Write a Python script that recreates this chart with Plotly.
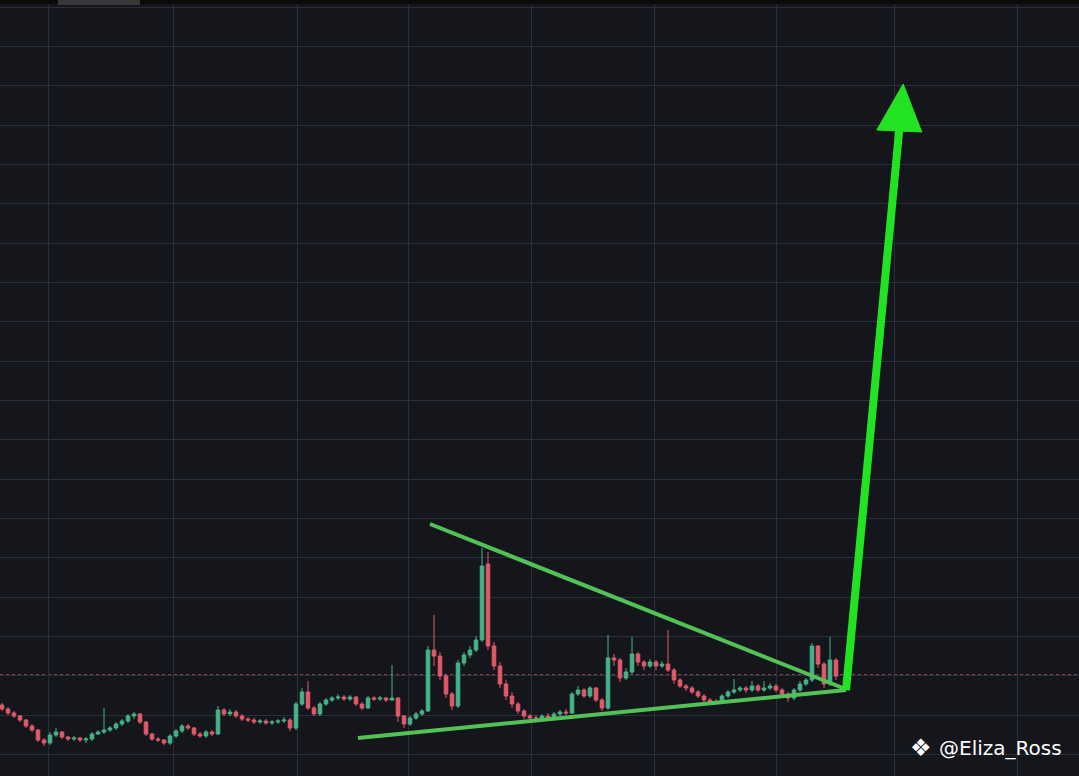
import plotly.graph_objects as go

# ---- candle data (arbitrary price units) ----
opens = [71, 67, 63, 60, 56, 50, 46, 36, 33, 41, 44, 39, 37, 38, 36, 37, 42, 44, 46, 48,
         52, 55, 60, 62, 54, 42, 37, 36, 33, 40, 45, 50, 48, 42, 40, 44, 42, 66, 62, 64,
         60, 57, 56, 54, 55, 53, 54, 55, 56, 48, 72, 84, 68, 62, 72, 76, 78, 79, 77, 79,
         72, 68, 78, 77, 78, 76, 78, 60, 52, 58, 62, 65, 126, 120, 100, 82, 70, 113, 121, 126,
         136, 212, 130, 110, 92, 80, 72, 65, 60, 58, 58, 60, 59, 62, 64, 63, 82, 86, 80, 88,
         76, 68, 118, 116, 98, 104, 122, 114, 110, 114, 110, 112, 106, 96, 90, 88, 84, 80, 76, 74,
         74, 80, 84, 86, 88, 86, 90, 86, 88, 90, 86, 82, 78, 86, 92, 96, 130, 112, 92, 116]
highs = [73, 69, 65, 61, 57, 52, 47, 38, 44, 48, 45, 40, 40, 39, 39, 44, 46, 68, 50, 54,
         57, 62, 64, 63, 55, 43, 39, 37, 42, 47, 52, 52, 49, 44, 46, 46, 70, 68, 67, 66,
         62, 59, 58, 57, 57, 56, 57, 59, 58, 74, 88, 95, 70, 74, 78, 80, 82, 81, 81, 80,
         74, 80, 80, 80, 79, 111, 79, 61, 60, 64, 67, 130, 161, 124, 102, 84, 116, 124, 130, 140,
         228, 224, 134, 114, 96, 84, 74, 67, 62, 61, 62, 63, 64, 66, 67, 84, 90, 88, 90, 89,
         78, 141, 122, 118, 108, 139, 124, 116, 117, 116, 115, 146, 108, 98, 92, 90, 86, 82, 78, 77,
         82, 86, 97, 90, 90, 95, 92, 95, 93, 92, 88, 84, 88, 95, 98, 133, 131, 114, 139, 118]
lows = [65, 61, 58, 54, 48, 44, 34, 30, 31, 39, 37, 35, 35, 34, 33, 35, 41, 42, 44, 46,
        50, 53, 57, 52, 40, 35, 34, 31, 31, 38, 43, 46, 40, 38, 38, 40, 41, 60, 60, 58,
        55, 54, 52, 52, 51, 51, 52, 53, 45, 46, 70, 66, 60, 60, 70, 74, 76, 75, 75, 70,
        66, 67, 75, 75, 74, 75, 54, 48, 50, 56, 60, 64, 110, 96, 78, 66, 68, 110, 118, 124,
        134, 126, 106, 88, 76, 68, 62, 57, 55, 55, 56, 57, 57, 60, 61, 62, 80, 78, 78, 74,
        65, 66, 110, 94, 96, 102, 110, 106, 108, 106, 108, 104, 92, 88, 85, 82, 78, 74, 72, 72,
        73, 78, 82, 84, 83, 84, 84, 84, 86, 84, 79, 74, 76, 84, 90, 94, 108, 88, 90, 96]
closes = [67, 63, 60, 56, 50, 46, 36, 33, 41, 44, 39, 37, 38, 36, 37, 42, 44, 46, 48, 52,
          55, 60, 62, 54, 42, 37, 36, 33, 40, 45, 50, 48, 42, 40, 44, 42, 66, 62, 64, 60,
          57, 56, 54, 55, 53, 54, 55, 56, 48, 72, 84, 68, 62, 72, 76, 78, 79, 77, 79, 72,
          68, 78, 77, 78, 76, 78, 60, 52, 58, 62, 65, 126, 120, 100, 82, 70, 113, 121, 126, 136,
          210, 130, 110, 92, 80, 72, 65, 60, 58, 58, 60, 59, 62, 64, 63, 82, 86, 80, 88, 76,
          68, 118, 116, 98, 104, 122, 114, 110, 114, 110, 112, 106, 96, 90, 88, 84, 80, 76, 74, 74,
          80, 84, 86, 88, 86, 90, 86, 88, 90, 86, 82, 78, 86, 92, 96, 130, 112, 92, 116, 100]
bars = list(range(len(closes)))

last_price = 101

# ---- drawn pattern (bar index, price) ----
upper_line = [(71.33, 252), (140.17, 88)]
lower_line = [(59.33, 38), (140.67, 86)]
arrow_shaft = [(140.67, 86), (149.6, 650)]
arrow_head = [(145.8, 646), (153.3, 644), (150.2, 692)]

# grid positions (bar index) for vertical lines
v_grid = [7.83, 28.5, 49.17, 67.67, 88.17, 108.67, 129.0, 148.83, 169.33]

BG = "#15161c"
GRID = "#2b2e3b"

fig = go.Figure()
fig.add_trace(go.Candlestick(
    x=bars, open=opens, high=highs, low=lows, close=closes,
    increasing=dict(line=dict(color="#44b388", width=1), fillcolor="#44b388"),
    decreasing=dict(line=dict(color="#e05a6a", width=1), fillcolor="#e05a6a"),
    whiskerwidth=0, showlegend=False, hoverinfo="skip"))

# current price dotted line
fig.add_shape(type="line", xref="paper", x0=0, x1=1, yref="y", y0=last_price, y1=last_price,
              line=dict(color="#a8505c", width=1.5, dash="dot"), layer="below")

tri_col = "#52c257"
fig.add_shape(type="line", x0=upper_line[0][0], y0=upper_line[0][1], x1=upper_line[1][0], y1=upper_line[1][1],
              line=dict(color=tri_col, width=4))
fig.add_shape(type="line", x0=lower_line[0][0], y0=lower_line[0][1], x1=lower_line[1][0], y1=lower_line[1][1],
              line=dict(color=tri_col, width=4))

arr_col = "#22e322"
fig.add_shape(type="line", x0=arrow_shaft[0][0], y0=arrow_shaft[0][1], x1=arrow_shaft[1][0], y1=arrow_shaft[1][1],
              line=dict(color=arr_col, width=8))
p = arrow_head
fig.add_shape(type="path",
              path=f"M {p[0][0]},{p[0][1]} L {p[1][0]},{p[1][1]} L {p[2][0]},{p[2][1]} Z",
              fillcolor=arr_col, line=dict(color=arr_col, width=1))

# top strip and tab
fig.add_shape(type="rect", xref="paper", yref="paper", x0=0, x1=1, y0=1 - 4 / 776, y1=1,
              fillcolor="#0b0b0e", line=dict(width=0))
fig.add_shape(type="rect", xref="paper", yref="paper", x0=58 / 1079, x1=140 / 1079, y0=1 - 5 / 776, y1=1,
              fillcolor="#38383c", line=dict(width=0))

# watermark
fig.add_annotation(xref="paper", yref="paper", x=921 / 1079, y=1 - 748 / 776, text="❖",
                   xanchor="center", yanchor="middle",
                   showarrow=False, font=dict(size=24, color="white", family="DejaVu Sans"))
fig.add_annotation(xref="paper", yref="paper", x=1000 / 1079, y=1 - 748 / 776, text="@Eliza_Ross",
                   xanchor="center", yanchor="middle",
                   showarrow=False, font=dict(size=20, color="white", family="DejaVu Sans"))

fig.update_layout(
    width=1079, height=776, margin=dict(l=0, r=0, t=0, b=0),
    paper_bgcolor=BG, plot_bgcolor=BG, showlegend=False, boxgap=0.15,
    xaxis=dict(range=[-1 / 3, 179.5], rangeslider=dict(visible=False), showticklabels=False,
               tickmode="array", tickvals=v_grid, showgrid=True, gridcolor=GRID, gridwidth=1,
               zeroline=False, ticks=""),
    yaxis=dict(range=[0, 776], showticklabels=False, tick0=21.35, dtick=39.35,
               showgrid=True, gridcolor=GRID, gridwidth=1, zeroline=False, ticks=""),
)

fig.write_html("out.html", config={"displayModeBar": False},
               post_script="document.body.style.margin='0px';document.body.style.background='#15161c';")
